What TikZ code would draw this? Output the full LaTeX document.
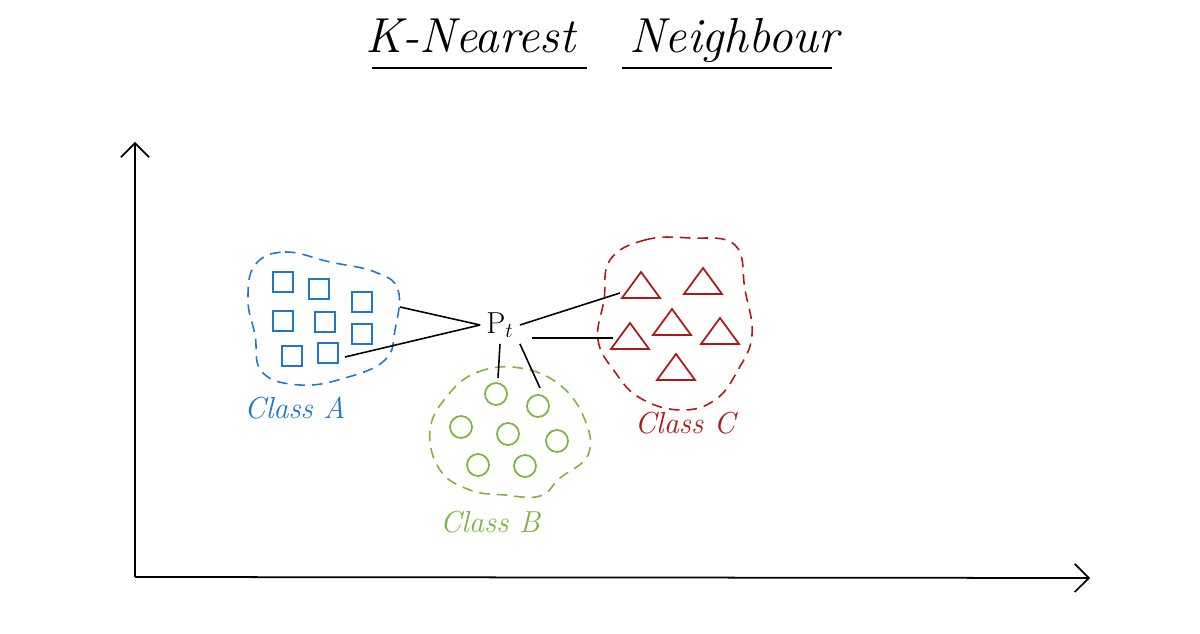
\documentclass[tikz,border=0pt]{standalone}
\usetikzlibrary{arrows.meta}
\begin{document}
\begin{tikzpicture}[x=0.02cm,y=-0.02cm,
  blob/.style={dashed,line width=0.9pt,dash pattern=on 6pt off 4pt},
  sq/.style={draw=blueA,line width=1pt,minimum size=0.4cm,inner sep=0pt},
  circ/.style={draw=greenB,line width=1pt,circle,minimum size=0.44cm,inner sep=0pt},
  link/.style={line width=0.9pt},
  lab/.style={font=\LARGE\itshape}]
\definecolor{blueA}{HTML}{1F78C8}
\definecolor{greenB}{HTML}{7DB53F}
\definecolor{redC}{HTML}{B01818}
\useasboundingbox (0,0) rectangle (1200,634);
\node[font=\fontsize{28}{32}\selectfont\itshape] (title) at (602,40) {K-Nearest\hspace{1.1em}Neighbour};
\draw[line width=0.9pt] (372,68) -- (587,68) (622,68) -- (832,68);
\coordinate (o) at (135,577);
\coordinate (ytop) at (135,142);
\coordinate (xend) at (1090,578);
\draw[line width=1pt,-{Straight Barb[length=8pt,width=16pt]}] (o) -- (ytop);
\draw[line width=1pt,-{Straight Barb[length=8pt,width=16pt]}] (o) -- (xend);
% blobs
\draw[blob,blueA] plot[smooth cycle,tension=0.7] coordinates{(255,265)(285,252)(330,262)(375,272)(398,290)(395,330)(385,360)(345,378)(300,385)(262,372)(255,335)(248,300)};
\draw[blob,greenB] plot[smooth cycle,tension=0.7] coordinates{(448,395)(478,372)(520,368)(560,385)(585,420)(588,455)(560,478)(540,496)(505,495)(470,490)(440,470)(430,430)};
\draw[blob,redC] plot[smooth cycle,tension=0.7] coordinates{(610,260)(645,240)(690,238)(735,245)(745,290)(752,335)(738,370)(715,400)(680,410)(640,398)(615,372)(598,340)(604,300)};
% squares
\foreach \n/\x/\y in {a1/283/282,a2/319/289,a3/362/302,a4/283/321,a5/325/322,a6/362/334,a7/292/356,a8/328/353}
  \node[sq] (\n) at (\x,\y) {};
\foreach \n/\x/\y in {b1/496/394,b2/538/406,b3/461/427,b4/508/434,b5/557/441,b6/478/465,b7/525/466}
  \node[circ] (\n) at (\x,\y) {};
\foreach \n/\x/\y in {c1/641/286,c2/703/282,c3/672/323,c4/630/337,c5/720/332,c6/676/368}
  \draw[redC,line width=1pt] (\x-19,\y+12) -- (\x,\y-14) -- (\x+19,\y+12) -- cycle;
\node[font=\LARGE] (pt) at (500,325) {P$_t$};
\coordinate (ea) at (400,307);
\coordinate (eb) at (345,357);
\coordinate (ec) at (498,378);
\coordinate (ed) at (540,388);
\coordinate (ee) at (620,293);
\coordinate (ef) at (613,338);
\coordinate (ps) at (532,338);
\draw[link] (pt.west) -- (ea);
\draw[link] (pt.west) -- (eb);
\draw[link] (pt.south) -- (ec);
\draw[link] (pt.south east) -- (ed);
\draw[link] (pt.east) -- (ee);
\draw[link] (ps) -- (ef);
\node[lab,blueA] (la) at (295,408) {Class A};
\node[lab,greenB] (lb) at (490,522) {Class B};
\node[lab,redC] (lc) at (685,423) {Class C};
\end{tikzpicture}
\end{document}
